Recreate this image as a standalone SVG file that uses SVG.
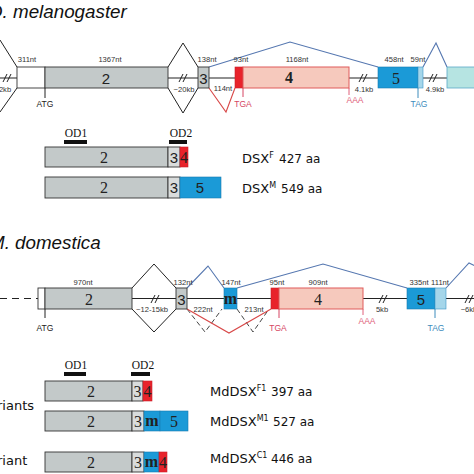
<svg xmlns="http://www.w3.org/2000/svg" width="474" height="474" viewBox="0 0 474 474">
<style>
.title{font-family:"Liberation Sans",Arial,sans-serif;font-style:italic;font-size:18.8px;fill:#111}
.nt{font-family:"Liberation Sans",Arial,sans-serif;font-size:7.6px;fill:#333;text-anchor:middle}
.cod{font-family:"Liberation Sans",Arial,sans-serif;font-size:8.5px;text-anchor:middle}
.od{font-family:"Liberation Serif","Times New Roman",serif;font-size:11.5px;fill:#111;text-anchor:middle}
.num{font-family:"Liberation Serif","Times New Roman",serif;font-size:16px;fill:#222;text-anchor:middle}
.sn{font-family:"Liberation Sans",Arial,sans-serif;font-size:15px;fill:#222;text-anchor:middle}
.lab{font-family:"DejaVu Sans",Verdana,sans-serif;font-size:13px;fill:#111}
.aa{font-family:"DejaVu Sans",Verdana,sans-serif;font-size:12px;fill:#111}
.gray{fill:#c3c9c9;stroke:#333;stroke-width:0.9}
.g3{fill:#d9dcdc;stroke:#333;stroke-width:0.9}
.red{fill:#e8232b;stroke:#c8202a;stroke-width:0.6}
.pink{fill:#f6c9bd;stroke:#e05a5a;stroke-width:1}
.blue{fill:#1b9ad7;stroke:#1a7bb0;stroke-width:0.6}
.lblue{fill:#a5d6ea;stroke:#3a95c5;stroke-width:0.6}
.cyan{fill:#b6e4e2;stroke:#5aa8c8;stroke-width:0.8}
.white{fill:#fff;stroke:#333;stroke-width:0.9}
.ln{stroke:#222;stroke-width:1.2;fill:none}
.dia{stroke:#222;stroke-width:1;fill:none}
.arc{stroke:#5577b0;stroke-width:1.1;fill:none}
.rarc{stroke:#d84848;stroke-width:1.1;fill:none}
.dash{stroke:#444;stroke-width:1;fill:none;stroke-dasharray:5,3}
.brk{stroke:#222;stroke-width:1;fill:none}
</style>
<rect width="474" height="474" fill="#fff"/>

<!-- titles -->
<text class="title" x="-11" y="18">D. melanogaster</text>
<text class="title" x="-11" y="249">M. domestica</text>

<!-- connectors -->
<g id="connectors">
  <!-- top gene -->
  <line class="ln" x1="0" y1="78" x2="474" y2="78"/>
  <polyline class="dia" points="0,40 17,67"/>
  <polyline class="dia" points="17,88 0,112"/>
  <polyline class="dia" points="168,67 183,43 198,67"/>
  <polyline class="dia" points="168,88 183,113 198,88"/>
  <polyline class="rarc" points="209,88 226,112 235,88"/>
  <polyline class="arc" points="209,67 290,42 378,67"/>
  <polyline class="arc" points="423,67 436,43 447,67"/>
  <path class="brk" d="M3,82 L7,74 M7,82 L11,74"/>
  <path class="brk" d="M179,82 L183,74 M183,82 L187,74"/>
  <path class="brk" d="M359,82 L363,74 M363,82 L367,74"/>
  <path class="brk" d="M429,82 L433,74 M433,82 L437,74"/>
  <line stroke="#222" stroke-width="1" x1="45" y1="88" x2="45" y2="98"/>
  <line stroke="#d64562" stroke-width="1" x1="243" y1="88" x2="243" y2="97"/>
  <line stroke="#e0607a" stroke-width="1" x1="349" y1="88" x2="349" y2="95"/>
  <line stroke="#3c8cbc" stroke-width="1" x1="418" y1="88" x2="418" y2="98"/>

  <!-- bottom gene -->
  <line class="ln" x1="0" y1="298.5" x2="38" y2="298.5" stroke-dasharray="7,5"/>
  <line class="ln" x1="38" y1="298.5" x2="474" y2="298.5"/>
  <polyline class="dia" points="132,288 154,264 176,288"/>
  <polyline class="dia" points="132,309 154,332 176,309"/>
  <polyline class="arc" points="187,288 208,266 224,288"/>
  <polyline class="arc" points="237,288 323,264 407,288"/>
  <polyline class="arc" points="446,288 469,263 480,268"/>
  <polyline class="dash" points="187,309 205,332 222,309"/>
  <polyline class="dash" points="237,309 253,332 269,309"/>
  <polyline class="rarc" points="187,309 229,333 271,309"/>
  <path class="brk" d="M151,303 L155,295 M155,303 L159,295"/>
  <path class="brk" d="M379,303 L383,295 M383,303 L387,295"/>
  <path class="brk" d="M465,303 L469,295 M469,303 L473,295"/>
  <line stroke="#222" stroke-width="1" x1="45" y1="309" x2="45" y2="318"/>
  <line stroke="#d64562" stroke-width="1" x1="279" y1="309" x2="279" y2="318"/>
  <line stroke="#e0607a" stroke-width="1" x1="363" y1="309" x2="363" y2="315"/>
  <line stroke="#3c8cbc" stroke-width="1" x1="435" y1="309" x2="435" y2="318"/>
</g>

<!-- top gene exons -->
<g id="dm-exon1"><rect class="white" x="17" y="67" width="28" height="21"/></g>
<g id="dm-exon2"><rect class="gray" x="45" y="67" width="123" height="21"/><text class="sn" x="106" y="84" font-size="16">2</text></g>
<g id="dm-exon3"><rect class="gray" x="198" y="67" width="11" height="21"/><text class="sn" x="203.5" y="84">3</text></g>
<g id="dm-exon4"><rect class="red" x="235" y="67" width="8" height="21"/><rect class="pink" x="243" y="67" width="106" height="21"/><text class="num" x="289" y="83" font-weight="bold">4</text></g>
<g id="dm-exon5"><rect class="blue" x="378" y="67" width="40" height="21"/><rect class="lblue" x="418" y="67" width="5" height="21"/><text class="num" x="396" y="84" fill="#123a5a">5</text></g>
<g id="dm-exon6"><rect class="cyan" x="447" y="67" width="40" height="21"/></g>

<g id="dm-labels">
  <text class="nt" x="5" y="92">2kb</text>
  <text class="nt" x="27" y="62">311nt</text>
  <text class="nt" x="110" y="62">1367nt</text>
  <text class="nt" x="184" y="92">~20kb</text>
  <text class="nt" x="207" y="62">138nt</text>
  <text class="nt" x="223" y="91">114nt</text>
  <text class="nt" x="241" y="62">93nt</text>
  <text class="nt" x="297" y="62">1168nt</text>
  <text class="nt" x="364" y="92">4.1kb</text>
  <text class="nt" x="394" y="62">458nt</text>
  <text class="nt" x="418" y="62">59nt</text>
  <text class="nt" x="435" y="92">4.9kb</text>
  <text class="nt" x="477" y="62">1</text>
  <text class="cod" x="45" y="107" fill="#222">ATG</text>
  <text class="cod" x="243" y="107" fill="#d64562">TGA</text>
  <text class="cod" x="355" y="103" fill="#e0607a">AAA</text>
  <text class="cod" x="419" y="107" fill="#3c8cbc">TAG</text>
</g>

<!-- top proteins -->
<g id="dm-od1"><text class="od" x="76" y="137">OD1</text><rect x="64" y="140" width="23" height="4" fill="#111"/></g>
<g id="dm-od2"><text class="od" x="181" y="137">OD2</text><rect x="169" y="140" width="18" height="4" fill="#111"/></g>
<g id="dsxF">
  <rect class="gray" x="45" y="147" width="123" height="20"/><text class="num" x="104" y="163" font-size="15">2</text>
  <rect class="g3" x="168" y="147" width="12" height="20"/><text class="sn" x="174" y="163" font-size="14">3</text>
  <rect class="red" x="180" y="147" width="8" height="20"/><text class="num" x="184" y="163" font-size="14" fill="#6a0a0a">4</text>
  <text class="lab" x="242" y="163">DSX<tspan font-size="8" dy="-5">F</tspan></text><text class="aa" x="279" y="163">427 aa</text>
</g>
<g id="dsxM">
  <rect class="gray" x="45" y="177" width="123" height="21"/><text class="num" x="104" y="193" font-size="15">2</text>
  <rect class="g3" x="168" y="177" width="12" height="21"/><text class="sn" x="174" y="193" font-size="14">3</text>
  <rect class="blue" x="180" y="177" width="41" height="21"/><text class="sn" x="200" y="193" font-size="14" fill="#123a5a">5</text>
  <text class="lab" x="242" y="193">DSX<tspan font-size="8" dy="-5">M</tspan></text><text class="aa" x="281" y="193">549 aa</text>
</g>

<!-- bottom gene exons -->
<g id="md-exon1"><rect class="white" x="38" y="288" width="7" height="21"/></g>
<g id="md-exon2"><rect class="gray" x="45" y="288" width="87" height="21"/><text class="num" x="89" y="305">2</text></g>
<g id="md-exon3"><rect class="gray" x="176" y="288" width="11" height="21"/><text class="sn" x="181.5" y="305">3</text></g>
<g id="md-exonm"><rect class="blue" x="224" y="288" width="13" height="21"/><text class="num" x="230.5" y="304" font-weight="bold" font-size="14" fill="#10263a">m</text></g>
<g id="md-exon4"><rect class="red" x="271" y="288" width="8" height="21"/><rect class="pink" x="279" y="288" width="84" height="21"/><text class="num" x="318" y="305">4</text></g>
<g id="md-exon5"><rect class="blue" x="407" y="288" width="28" height="21"/><rect class="lblue" x="435" y="288" width="11" height="21"/><text class="sn" x="421" y="305" fill="#123a5a">5</text></g>

<g id="md-labels">
  <text class="nt" x="83" y="285">970nt</text>
  <text class="nt" x="152" y="312">~12-15kb</text>
  <text class="nt" x="183" y="285">132nt</text>
  <text class="nt" x="231" y="285">147nt</text>
  <text class="nt" x="203" y="312">222nt</text>
  <text class="nt" x="254" y="312">213nt</text>
  <text class="nt" x="277" y="285">95nt</text>
  <text class="nt" x="318" y="285">909nt</text>
  <text class="nt" x="382" y="312">5kb</text>
  <text class="nt" x="419" y="285">335nt</text>
  <text class="nt" x="440" y="285">111nt</text>
  <text class="nt" x="469" y="312">~6kb</text>
  <text class="cod" x="45" y="331" fill="#222">ATG</text>
  <text class="cod" x="278" y="331" fill="#d64562">TGA</text>
  <text class="cod" x="367" y="324" fill="#e0607a">AAA</text>
  <text class="cod" x="436" y="331" fill="#3c8cbc">TAG</text>
</g>

<!-- bottom proteins -->
<g id="md-od1"><text class="od" x="76" y="369">OD1</text><rect x="64" y="372" width="22" height="4" fill="#111"/></g>
<g id="md-od2"><text class="od" x="143" y="369">OD2</text><rect x="131" y="372" width="19" height="4" fill="#111"/></g>
<g id="mdF1">
  <rect class="gray" x="45" y="381" width="87" height="20"/><text class="num" x="91" y="397">2</text>
  <rect class="g3" x="132" y="381" width="11" height="20"/><text class="num" x="137.5" y="397">3</text>
  <rect class="red" x="143" y="381" width="9" height="20"/><text class="num" x="147.5" y="397" fill="#6a0a0a">4</text>
  <text class="lab" x="210" y="396">MdDSX<tspan font-size="8" dy="-5">F1</tspan></text><text class="aa" x="271" y="396">397 aa</text>
</g>
<g id="mdM1">
  <rect class="gray" x="45" y="411" width="87" height="20"/><text class="num" x="91" y="427">2</text>
  <rect class="g3" x="132" y="411" width="12" height="20"/><text class="num" x="138" y="427">3</text>
  <rect class="blue" x="144" y="411" width="16" height="20"/><text class="num" x="152" y="426" font-weight="bold" font-size="15" fill="#10263a">m</text>
  <rect class="blue" x="160" y="411" width="28" height="20"/><text class="num" x="174" y="427" fill="#123a5a">5</text>
  <text class="lab" x="210" y="426">MdDSX<tspan font-size="8" dy="-5">M1</tspan></text><text class="aa" x="273" y="426">527 aa</text>
</g>
<g id="mdC1">
  <rect class="gray" x="45" y="452" width="87" height="20"/><text class="num" x="91" y="468">2</text>
  <rect class="g3" x="132" y="452" width="12" height="20"/><text class="num" x="138" y="468">3</text>
  <rect class="blue" x="144" y="452" width="15" height="20"/><text class="num" x="151.5" y="467" font-weight="bold" font-size="15" fill="#10263a">m</text>
  <rect class="red" x="159" y="452" width="8" height="20"/><text class="num" x="163" y="468" fill="#6a0a0a">4</text>
  <text class="lab" x="210" y="463">MdDSX<tspan font-size="8" dy="-5">C1</tspan></text><text class="aa" x="271" y="463">446 aa</text>
</g>
<text class="lab" x="-3" y="410">riants</text>
<text class="lab" x="-3" y="465">riant</text>
</svg>
